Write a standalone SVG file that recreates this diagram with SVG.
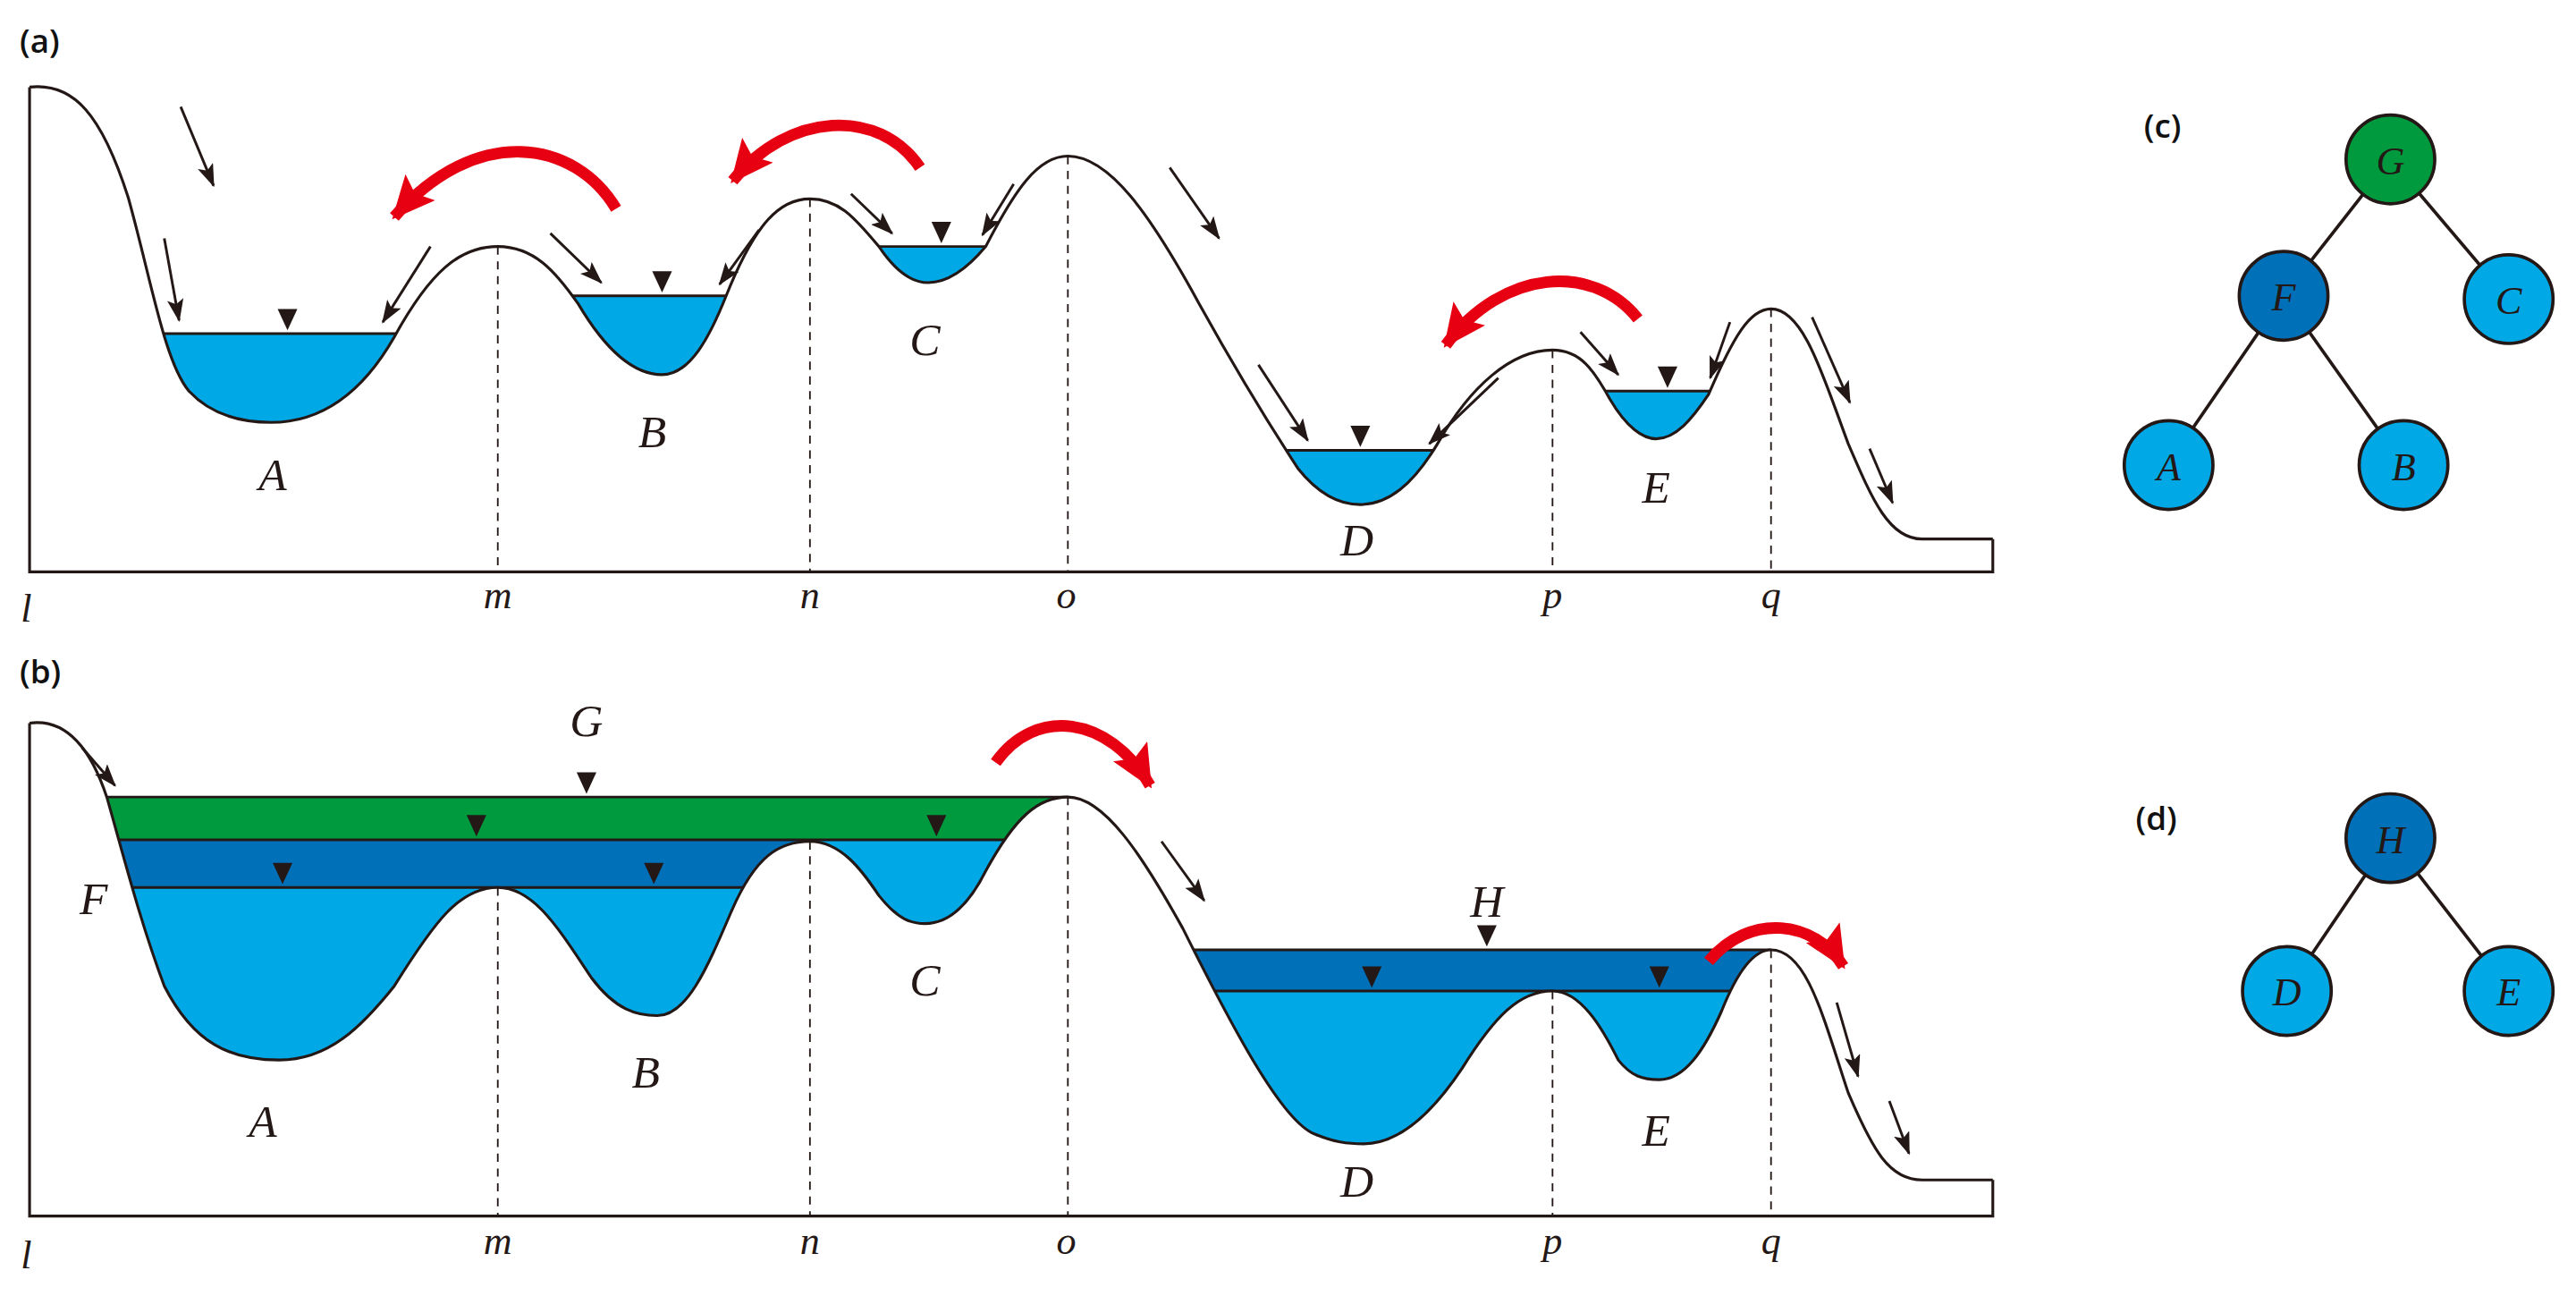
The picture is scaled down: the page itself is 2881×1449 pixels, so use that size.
<svg xmlns="http://www.w3.org/2000/svg" xmlns:xlink="http://www.w3.org/1999/xlink" width="2881" height="1449" viewBox="0 0 2881 1449">
<style>
.t{stroke:#231815;stroke-width:1.7;fill:none}
.frame{stroke:#231815;stroke-width:1.7;fill:none}
.dash{stroke:#231815;stroke-width:1;stroke-dasharray:5,4;fill:none}
.lb{fill:#00a8e6}.db{fill:#0070b8}.gr{fill:#009a3e}
.wl{stroke:#231815;stroke-width:1.6}
.ar{stroke:#231815;stroke-width:1.6;fill:none;marker-end:url(#ah)}
.red{stroke:#e60012;stroke-width:7;fill:none;marker-end:url(#rh)}
.lab{font-family:"Liberation Serif",serif;font-style:italic;font-size:28px;fill:#231815;text-anchor:middle}
.ax{font-family:"Liberation Serif",serif;font-style:italic;font-size:24px;fill:#231815;text-anchor:middle}
.pn{font-family:"Open Sans","Liberation Sans",sans-serif;font-weight:600;font-size:20px;fill:#111}
.nd{stroke:#231815;stroke-width:2}
.nt{font-family:"Liberation Serif",serif;font-style:italic;font-size:24px;fill:#231815;text-anchor:middle}
.ed{stroke:#231815;stroke-width:2}
</style>
<defs>
<marker id="ah" markerWidth="14" markerHeight="10" refX="13" refY="5" orient="auto" markerUnits="userSpaceOnUse"><path d="M0,0 L14,5 L0,10 L3,5 Z" fill="#231815"/></marker>
<marker id="rh" markerWidth="28" markerHeight="24" refX="24" refY="12" orient="auto" markerUnits="userSpaceOnUse"><path d="M0,0 L26,12 L0,24 L5,12 Z" fill="#e60012"/></marker>
<polygon id="tri" points="-6,-13 6,-13 0,0" fill="#231815"/>
<clipPath id="skyA"><path d="M18,53 C45,50 62,70 78,120 C92,170 100,220 115,238 C128,252 145,257 165,257 C195,257 220,240 240,205 C262,165 280,150 303,150 C325,150 338,165 352,185 C368,212 385,228 403,228 C420,228 432,205 442,180 C460,135 475,121 493,121 C512,121 522,135 535,150 C545,165 555,172 565,172 C578,172 590,162 600,150 C618,115 632,95 650,95 C675,95 700,130 730,185 C755,230 775,262 790,285 C802,300 815,307 828,307 C845,307 860,295 875,270 C895,235 920,213 945,213 C962,213 970,225 980,243 C990,260 1000,267 1008,267 C1020,267 1030,255 1040,240 C1055,205 1065,188 1078,188 C1098,188 1110,230 1125,270 C1140,305 1150,328 1170,328 L1213,328 L1213,0 L18,0 Z"/></clipPath>
<clipPath id="skyB"><path d="M18,440 C40,437 55,455 65,485 C75,520 85,560 100,600 C118,635 140,645 170,645 C200,645 220,625 240,600 C265,560 280,540 303,540 C325,540 340,565 360,595 C375,615 388,618 400,618 C418,618 430,590 445,555 C460,520 475,512 493,512 C512,512 525,530 535,545 C547,560 555,562 563,562 C578,562 590,550 600,530 C618,497 632,485 650,485 C672,485 695,520 720,565 C750,625 780,682 800,690 C812,695 820,696 830,696 C850,696 870,680 890,650 C910,618 925,603 945,603 C962,603 975,625 985,645 C993,655 1000,657 1010,657 C1025,657 1037,640 1048,615 C1058,590 1068,578 1078,578 C1100,578 1110,620 1125,665 C1140,700 1150,718 1170,718 L1213,718 L1213,390 L18,390 Z"/></clipPath>
</defs>
<rect width="2881" height="1449" fill="#fff"/>
<g transform="scale(1.8374)">
<g id="panel-a">
<text class="pn" x="12" y="32">(a)</text>
<g id="water-a" clip-path="url(#skyA)">
<rect class="lb" x="80" y="203" width="180" height="60"/><line class="wl" x1="80" y1="203" x2="260" y2="203"/>
<rect class="lb" x="330" y="180" width="130" height="50"/><line class="wl" x1="330" y1="180" x2="460" y2="180"/>
<rect class="lb" x="515" y="150" width="100" height="25"/><line class="wl" x1="515" y1="150" x2="615" y2="150"/>
<rect class="lb" x="760" y="274" width="130" height="35"/><line class="wl" x1="760" y1="274" x2="890" y2="274"/>
<rect class="lb" x="960" y="238" width="100" height="32"/><line class="wl" x1="960" y1="238" x2="1060" y2="238"/>
</g>
<path class="t" d="M18,53 C45,50 62,70 78,120 C92,170 100,220 115,238 C128,252 145,257 165,257 C195,257 220,240 240,205 C262,165 280,150 303,150 C325,150 338,165 352,185 C368,212 385,228 403,228 C420,228 432,205 442,180 C460,135 475,121 493,121 C512,121 522,135 535,150 C545,165 555,172 565,172 C578,172 590,162 600,150 C618,115 632,95 650,95 C675,95 700,130 730,185 C755,230 775,262 790,285 C802,300 815,307 828,307 C845,307 860,295 875,270 C895,235 920,213 945,213 C962,213 970,225 980,243 C990,260 1000,267 1008,267 C1020,267 1030,255 1040,240 C1055,205 1065,188 1078,188 C1098,188 1110,230 1125,270 C1140,305 1150,328 1170,328 L1213,328"/>
<path class="frame" d="M18,53 L18,348 L1213,348 L1213,328"/>
<g class="dashes"><line class="dash" x1="303" y1="150" x2="303" y2="348"/><line class="dash" x1="493" y1="121" x2="493" y2="348"/><line class="dash" x1="650" y1="95" x2="650" y2="348"/><line class="dash" x1="945" y1="213" x2="945" y2="348"/><line class="dash" x1="1078" y1="188" x2="1078" y2="348"/></g>
<use href="#tri" x="175" y="201"/><use href="#tri" x="403" y="178"/><use href="#tri" x="573" y="148"/><use href="#tri" x="828" y="272"/><use href="#tri" x="1015" y="236"/>
<text class="lab" x="166" y="298">A</text><text class="lab" x="397" y="272">B</text><text class="lab" x="563" y="216">C</text><text class="lab" x="826" y="338">D</text><text class="lab" x="1008" y="306">E</text>
<text class="ax" x="16" y="378">l</text><text class="ax" x="303" y="370">m</text><text class="ax" x="493" y="370">n</text><text class="ax" x="649" y="370">o</text><text class="ax" x="945" y="370">p</text><text class="ax" x="1078" y="370">q</text>
</g>
<g id="connectors-a">
<line class="ar" x1="110" y1="65" x2="130" y2="113"/><line class="ar" x1="100" y1="145" x2="109" y2="195"/>
<line class="ar" x1="262" y1="150" x2="233" y2="196"/>
<line class="ar" x1="335" y1="142" x2="366" y2="172"/><line class="ar" x1="462" y1="140" x2="438" y2="173"/>
<line class="ar" x1="518" y1="118" x2="543" y2="142"/><line class="ar" x1="617" y1="112" x2="598" y2="143"/>
<line class="ar" x1="712" y1="102" x2="742" y2="145"/>
<line class="ar" x1="766" y1="222" x2="796" y2="268"/><line class="ar" x1="912" y1="230" x2="870" y2="270"/>
<line class="ar" x1="962" y1="202" x2="985" y2="228"/><line class="ar" x1="1053" y1="196" x2="1041" y2="230"/>
<line class="ar" x1="1103" y1="193" x2="1126" y2="245"/><line class="ar" x1="1138" y1="273" x2="1152" y2="306"/>
<path class="red" d="M375,127 C350,85 290,75 240,132"/>
<path class="red" d="M560,102 C535,65 480,68 446,110"/>
<path class="red" d="M997,194 C970,160 915,163 880,210"/>
</g>
<g id="panel-b">
<text class="pn" x="12" y="416">(b)</text>
<g id="water-b" clip-path="url(#skyB)">
<rect class="lb" x="18" y="485" width="632" height="215"/>
<rect class="db" x="18" y="511" width="475" height="29"/>
<rect class="gr" x="18" y="485" width="632" height="26"/>
<line class="wl" x1="18" y1="485" x2="650" y2="485"/><line class="wl" x1="18" y1="511" x2="650" y2="511"/><line class="wl" x1="18" y1="540" x2="493" y2="540"/>
<rect class="lb" x="650" y="578" width="428" height="122"/>
<rect class="db" x="650" y="578" width="428" height="25"/>
<line class="wl" x1="650" y1="578" x2="1078" y2="578"/><line class="wl" x1="650" y1="603" x2="1078" y2="603"/>
</g>
<path class="t" d="M18,440 C40,437 55,455 65,485 C75,520 85,560 100,600 C118,635 140,645 170,645 C200,645 220,625 240,600 C265,560 280,540 303,540 C325,540 340,565 360,595 C375,615 388,618 400,618 C418,618 430,590 445,555 C460,520 475,512 493,512 C512,512 525,530 535,545 C547,560 555,562 563,562 C578,562 590,550 600,530 C618,497 632,485 650,485 C672,485 695,520 720,565 C750,625 780,682 800,690 C812,695 820,696 830,696 C850,696 870,680 890,650 C910,618 925,603 945,603 C962,603 975,625 985,645 C993,655 1000,657 1010,657 C1025,657 1037,640 1048,615 C1058,590 1068,578 1078,578 C1100,578 1110,620 1125,665 C1140,700 1150,718 1170,718 L1213,718"/>
<path class="frame" d="M18,440 L18,740 L1213,740 L1213,718"/>
<g class="dashes"><line class="dash" x1="303" y1="540" x2="303" y2="740"/><line class="dash" x1="493" y1="512" x2="493" y2="740"/><line class="dash" x1="650" y1="485" x2="650" y2="740"/><line class="dash" x1="945" y1="603" x2="945" y2="740"/><line class="dash" x1="1078" y1="578" x2="1078" y2="740"/></g>
<use href="#tri" x="357" y="483"/><use href="#tri" x="290" y="509"/><use href="#tri" x="570" y="509"/><use href="#tri" x="172" y="538"/><use href="#tri" x="398" y="538"/>
<use href="#tri" x="905" y="576"/><use href="#tri" x="835" y="601"/><use href="#tri" x="1010" y="601"/>
<text class="lab" x="357" y="448">G</text><text class="lab" x="57" y="556">F</text><text class="lab" x="905" y="558">H</text>
<text class="lab" x="160" y="692">A</text><text class="lab" x="393" y="662">B</text><text class="lab" x="563" y="606">C</text><text class="lab" x="826" y="728">D</text><text class="lab" x="1008" y="697">E</text>
<text class="ax" x="16" y="772">l</text><text class="ax" x="303" y="763">m</text><text class="ax" x="493" y="763">n</text><text class="ax" x="649" y="763">o</text><text class="ax" x="945" y="763">p</text><text class="ax" x="1078" y="763">q</text>
</g>
<g id="connectors-b">
<line class="ar" x1="50" y1="455" x2="70" y2="478"/>
<line class="ar" x1="707" y1="512" x2="733" y2="548"/>
<line class="ar" x1="1118" y1="610" x2="1131" y2="655"/><line class="ar" x1="1150" y1="670" x2="1162" y2="702"/>
<path class="red" d="M606,464 C630,430 675,435 700,478"/>
<path class="red" d="M1040,585 C1065,555 1105,560 1122,588"/>
</g>
<g id="panel-c">
<text class="pn" x="1305" y="84">(c)</text>
<line class="ed" x1="1455" y1="97" x2="1390" y2="180"/><line class="ed" x1="1455" y1="97" x2="1527" y2="182"/>
<line class="ed" x1="1390" y1="180" x2="1320" y2="282"/><line class="ed" x1="1390" y1="180" x2="1463" y2="283"/>
<g id="node-G"><circle class="nd gr" cx="1455" cy="97" r="27"/><text class="nt" x="1455" y="106">G</text></g>
<g id="node-F"><circle class="nd db" cx="1390" cy="180" r="27"/><text class="nt" x="1390" y="189">F</text></g>
<g id="node-C"><circle class="nd lb" cx="1527" cy="182" r="27"/><text class="nt" x="1527" y="191">C</text></g>
<g id="node-A"><circle class="nd lb" cx="1320" cy="283" r="27"/><text class="nt" x="1320" y="292">A</text></g>
<g id="node-B"><circle class="nd lb" cx="1463" cy="283" r="27"/><text class="nt" x="1463" y="292">B</text></g>
</g>
<g id="panel-d">
<text class="pn" x="1300" y="505">(d)</text>
<line class="ed" x1="1455" y1="510" x2="1392" y2="603"/><line class="ed" x1="1455" y1="510" x2="1527" y2="603"/>
<g id="node-H"><circle class="nd db" cx="1455" cy="510" r="27"/><text class="nt" x="1455" y="519">H</text></g>
<g id="node-D"><circle class="nd lb" cx="1392" cy="603" r="27"/><text class="nt" x="1392" y="612">D</text></g>
<g id="node-E"><circle class="nd lb" cx="1527" cy="603" r="27"/><text class="nt" x="1527" y="612">E</text></g>
</g>
</g>
</svg>
